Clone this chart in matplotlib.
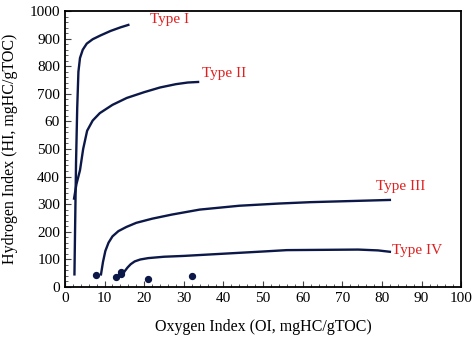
import matplotlib
matplotlib.use("Agg")
import matplotlib.pyplot as plt
from matplotlib.ticker import MultipleLocator

plt.rcParams['font.family'] = ['Liberation Serif', 'DejaVu Serif']

# kerogen type curves (OI, HI)
type1_oi = [2.4, 2.6, 2.8, 3.1, 3.4, 3.8, 4.5, 5.5, 7.0, 9.0, 11.5, 14.0, 16.0]
type1_hi = [45, 250, 450, 650, 780, 830, 860, 882, 898, 912, 928, 941, 950]

type2_oi = [2.3, 2.9, 3.8, 4.6, 5.6, 7.0, 8.8, 12.0, 15.6, 20.0, 24.0, 28.0, 31.0, 33.6]
type2_hi = [320, 372, 423, 500, 566, 603, 630, 660, 685, 706, 723, 735, 741, 743]

type3_oi = [9.1, 9.6, 10.2, 11.0, 12.0, 13.5, 15.5, 18.0, 22.0, 27.0, 34.0, 44.0, 54.0, 62.0, 72.0, 82.0]
type3_hi = [45, 90, 130, 160, 183, 202, 217, 232, 247, 262, 280, 294, 302, 307, 311, 315]

type4_oi = [14.4, 15.0, 15.8, 16.6, 17.6, 19.0, 21.0, 25.0, 30.0, 40.0, 50.0, 56.0, 65.0, 74.0, 79.0, 82.0]
type4_hi = [45, 55, 70, 82, 92, 99, 104, 109, 112, 120, 128, 133, 134, 135, 132, 127]

# samples
sample_oi = [7.9, 13.0, 14.1, 14.1, 21.0, 32.0]
sample_hi = [42, 34, 55, 46, 27, 38]

labels = ["Type I", "Type II", "Type III", "Type IV"]
label_x = [21.5, 34.5, 78.5, 82.6]
label_y = [970, 772, 362, 133]

y_ticks = [0, 100, 200, 300, 400, 500, 600, 700, 800, 900, 1000]
y_tick_labels = ["0", "100", "200", "300", "400", "500", "60", "700", "800", "900", "1000"]

line_col = "#0c1848"

fig = plt.figure(figsize=(4.74, 3.37), dpi=100)
ax = fig.add_axes([0.137, 0.149, 0.836, 0.818])

ax.plot(type1_oi, type1_hi, color=line_col, lw=1.7)
ax.plot(type2_oi, type2_hi, color=line_col, lw=1.7)
ax.plot(type3_oi, type3_hi, color=line_col, lw=1.7)
ax.plot(type4_oi, type4_hi, color=line_col, lw=1.7)
ax.scatter(sample_oi, sample_hi, s=18, color=line_col, zorder=3)

for i in range(len(labels)):
    ax.text(label_x[i], label_y[i], labels[i], color="#e02020", fontsize=11,
            ha="left", va="center")

ax.set_xlim(0, 100)
ax.set_ylim(0, 1000)
ax.xaxis.set_major_locator(MultipleLocator(10))
ax.xaxis.set_minor_locator(MultipleLocator(2))
ax.set_yticks(y_ticks)
ax.set_yticklabels(y_tick_labels)
ax.yaxis.set_minor_locator(MultipleLocator(20))
ax.tick_params(which="major", direction="in", length=4, labelsize=11, color="#444444")
ax.tick_params(which="minor", direction="in", length=2, color="#444444")
for s in ax.spines.values():
    s.set_linewidth(1.3)

ax.set_xlabel("Oxygen Index (OI, mgHC/gTOC)", fontsize=11.5, labelpad=10)
ax.set_ylabel("Hydrogen Index (HI, mgHC/gTOC)", fontsize=11.5, labelpad=8)

fig.savefig("out.png", dpi=100)
